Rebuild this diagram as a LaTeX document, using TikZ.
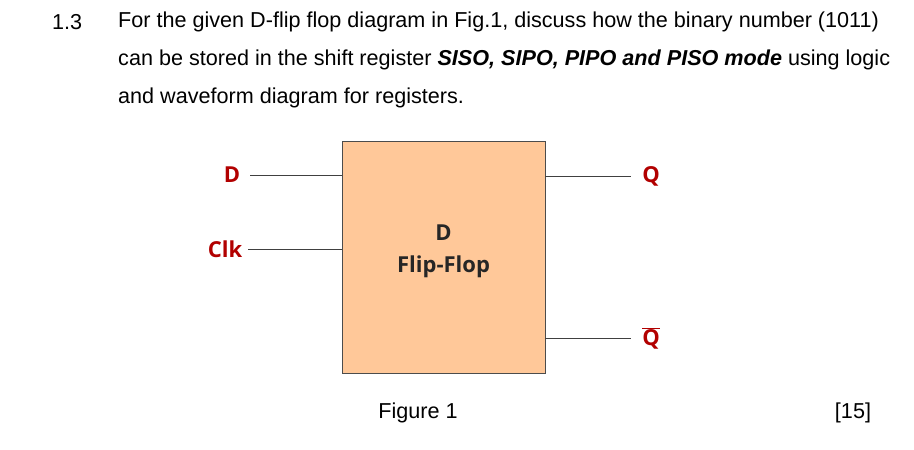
\documentclass[tikz,border=0pt]{standalone}
\usepackage{fontspec}
\setmainfont{Liberation Sans}
\newfontfamily\osans{Open Sans}
\begin{document}
\begin{tikzpicture}[x=1pt,y=-1pt,
  txt/.style={anchor=west,inner sep=0pt,font=\fontsize{21.6}{24}\selectfont},
  lbl/.style={text=red!70!black,font=\osans\bfseries\fontsize{22}{24}\selectfont,inner sep=0pt},
  wire/.style={draw=black!75,line width=0.8pt}]
\useasboundingbox[fill=white] (0,0) rectangle (914,450);
\node[txt] (n) at (52,22) {1.3};
\node[txt] (l1) at (118,22) {For the given D-flip flop diagram in Fig.1, discuss how the binary number (1011)};
\node[txt] (l2) at (118,60) {can be stored in the shift register \textbf{\textit{SISO, SIPO, PIPO and PISO mode}} using logic};
\node[txt] (l3) at (118,98) {and waveform diagram for registers.};
\node[draw=black!70,line width=0.8pt,fill=orange!38!white!97!red,minimum width=203pt,minimum height=232pt] (ff) at (443.5,257) {};
\node[font=\osans\bfseries\fontsize{22}{32}\selectfont,align=center,text=black!85] (ffl) at (443.5,251) {D\\Flip-Flop};
\node[lbl,anchor=center] (d) at (232,175) {D};
\node[lbl,anchor=center] (clk) at (225,249) {Clk};
\node[lbl,anchor=center] (q) at (651,176) {Q};
\node[lbl,anchor=center] (qb) at (651,338) {$\overline{\hbox{\osans\bfseries Q}}$};
\draw[wire] (d.east)++(10,0) -- (ff.west|-d);
\draw[wire] (clk.east)++(6,0) -- (ff.west|-clk);
\draw[wire] (ff.east|-q) -- ++(86,0) coordinate (qe);
\draw[wire] (ff.east|-qb) -- ++(86,0) coordinate (qbe);
\node[txt,anchor=center] (fig) at (418,413) {Figure 1};
\node[txt,anchor=center] (m) at (853,413) {[15]};
\end{tikzpicture}
\end{document}
